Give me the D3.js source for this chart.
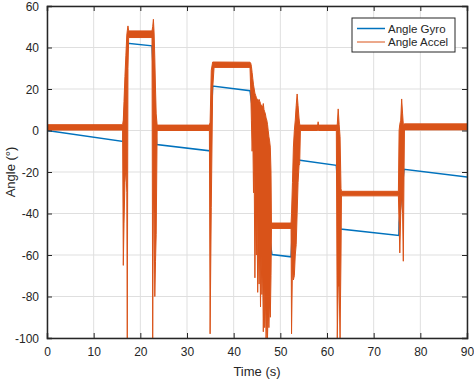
<!DOCTYPE html>
<html>
<head>
<meta charset="utf-8">
<script src="https://cdn.jsdelivr.net/npm/d3@7"></script>
<style>
  html, body { margin: 0; padding: 0; background: #fff; }
  text { font-family: "Liberation Sans", Arial, Helvetica, sans-serif; }
</style>
</head>
<body>
<svg id="chart" width="474" height="382"></svg>
<script>
// ---------- data ----------
const xTicks = [0, 10, 20, 30, 40, 50, 60, 70, 80, 90];
const yTicks = [-100, -80, -60, -40, -20, 0, 20, 40, 60];
const seriesNames = ["Angle Gyro", "Angle Accel"];

// Gyro angle (deg) vs time (s)
const gyroTime  = [0, 16.3, 17.3, 22.5, 23.5, 34.9, 35.5, 43.5, 48.2, 52.3, 53.3, 54.2, 62.0, 62.9, 75.4, 75.45, 76.5, 90];
const gyroAngle = [0, -5.3, 42.0, 40.8, -6.8, -9.8, 21.4, 19.2, -59.8, -60.9, -14.0, -14.3, -16.8, -47.5, -50.6, -44.5, -18.7, -22.4];

// Accel angle: noisy signal read as an envelope (min / max) over time
const accelTime = [
  0, 16.2, 16.35, 16.5, 16.7, 16.9, 17.1, 17.2, 17.35, 17.5,
  22.5, 22.65, 22.8, 22.95, 23.1, 23.25, 23.4, 23.6,
  34.8, 34.95, 35.2, 35.5, 35.8,
  43.5, 43.65, 43.8, 43.95, 44.1, 44.25, 44.4, 44.55, 44.7, 44.85, 45.0, 45.15, 45.3, 45.45, 45.6, 45.75, 45.9, 46.05, 46.2, 46.35, 46.5, 46.65, 46.8, 46.95, 47.1, 47.25, 47.4, 47.55, 47.7, 47.85, 48.0, 48.1,
  52.3, 52.4, 52.6, 52.8, 53.0, 53.2, 53.4, 53.6, 53.8, 54.0, 54.15, 54.3,
  58.0, 58.1, 58.2,
  62.0, 62.2, 62.4, 62.6, 62.8, 63.0, 63.1,
  75.3, 75.45, 75.6, 75.8, 76.0, 76.2, 76.35, 76.5, 76.6,
  90
];
const accelLow = [
  0.2, 0.2, -65, -45, -25, -18, -30, -100, 30, 44.8,
  44.8, -100, -30, -40, -80, -63, -50, 0,
  0, -98, -37, 20, 30.4,
  30.4, 20, 5, -10, -2, -30, -20, -71, -35, -60, -40, -78, -55, -74, -50, -85, -60, -79, -65, -97, -75, -95, -80, -100, -88, -100, -85, -95, -82, -90, -70, -47.2,
  -47.2, -98, -65, -72, -70, -60, -55, -40, -25, -17, -16, 0,
  0, 0, 0,
  0, -100, -75, -75, -100, -60, -31.5,
  -31.5, -45, -59, -40, -30, -40, -63, -21, 0.3,
  0.3
];
const accelHigh = [
  2.8, 2.8, 5, 14, 26, 36, 46, 48, 50.4, 48,
  48, 50, 53.6, 47, 35, 20, 8, 2.6,
  2.6, 4, 29, 33, 33,
  32.9, 32.5, 31, 28, 25, 22, 20, 18, 17, 16, 15, 15, 14, 15, 14, 13, 12, 12, 11, 13, 10, 9, 8, 6, 5, 3, 0, -3, -5, -8, -20, -44.6,
  -44.6, -40, -25, -8, 0, 5, 12, 17.6, 12, 6, 3, 2.6,
  2.6, 4.2, 2.6,
  2.6, 3, 10.4, 3, -3, -28, -29.3,
  -29.3, 0, 3, 5, 15.2, 8, 3, 3, 3.2,
  3.2
];

// ---------- layout ----------
const W = 474, H = 382;
const margin = { left: 47, right: 7, top: 6, bottom: 44 };
const iw = W - margin.left - margin.right;
const ih = H - margin.top - margin.bottom;

const blue = "#0072BD", orange = "#D95319", axisCol = "#262626";

const svg = d3.select("#chart");
const g = svg.append("g").attr("transform", `translate(${margin.left},${margin.top})`);

const x = d3.scaleLinear().domain([0, 90]).range([0, iw]);
const y = d3.scaleLinear().domain([-100, 60]).range([ih, 0]);

// grid
g.append("g").selectAll("line").data(xTicks).join("line")
  .attr("x1", d => x(d)).attr("x2", d => x(d)).attr("y1", 0).attr("y2", ih)
  .attr("stroke", "#dfdfdf").attr("stroke-width", 1);
g.append("g").selectAll("line").data(yTicks).join("line")
  .attr("x1", 0).attr("x2", iw).attr("y1", d => y(d)).attr("y2", d => y(d))
  .attr("stroke", "#dfdfdf").attr("stroke-width", 1);

svg.append("defs").append("clipPath").attr("id", "plotclip")
  .append("rect").attr("x", 0).attr("y", 0).attr("width", iw).attr("height", ih);

const plot = g.append("g").attr("clip-path", "url(#plotclip)");

// gyro line
const gyro = gyroTime.map((t, i) => ({ t, v: gyroAngle[i] }));
plot.append("path").datum(gyro)
  .attr("fill", "none").attr("stroke", blue).attr("stroke-width", 1.5)
  .attr("d", d3.line().x(d => x(d.t)).y(d => y(d.v)));

// accel envelope
const accel = accelTime.map((t, i) => ({ t, lo: accelLow[i], hi: accelHigh[i] }));
plot.append("path").datum(accel)
  .attr("fill", orange).attr("stroke", orange).attr("stroke-width", 1).attr("stroke-linejoin", "round")
  .attr("d", d3.area().x(d => x(d.t)).y0(d => y(d.lo)).y1(d => y(d.hi)));

// axes (ticks inward, box on)
const tickLen = 5;
const ax = g.append("g").attr("transform", `translate(0,${ih})`)
  .call(d3.axisBottom(x).tickValues(xTicks).tickSize(-tickLen).tickPadding(9).tickFormat(d3.format("d")));
const axTop = g.append("g")
  .call(d3.axisTop(x).tickValues(xTicks).tickSize(-tickLen).tickFormat(""));
const ay = g.append("g")
  .call(d3.axisLeft(y).tickValues(yTicks).tickSize(-tickLen).tickPadding(8).tickFormat(d => String(d)));
const ayR = g.append("g").attr("transform", `translate(${iw},0)`)
  .call(d3.axisRight(y).tickValues(yTicks).tickSize(-tickLen).tickFormat(""));

[ax, axTop, ay, ayR].forEach(a => {
  a.select(".domain").attr("stroke", axisCol).attr("stroke-width", 1.5);
  a.selectAll(".tick line").attr("stroke", axisCol).attr("stroke-width", 1);
  a.selectAll("text").attr("fill", axisCol).style("font-size", "12px")
    .style("font-family", '"Liberation Sans", Arial, sans-serif');
});
ay.selectAll("text").attr("dy", "0.36em");

// axis titles
svg.append("text").attr("x", margin.left + iw / 2).attr("y", 376)
  .attr("text-anchor", "middle").attr("fill", axisCol).style("font-size", "13px")
  .text("Time (s)");
svg.append("text").attr("transform", `translate(15,${margin.top + ih / 2}) rotate(-90)`)
  .attr("text-anchor", "middle").attr("fill", axisCol).style("font-size", "13px")
  .text("Angle (°)");

// legend
const lg = svg.append("g").attr("transform", "translate(352,18)");
lg.append("rect").attr("width", 103).attr("height", 34)
  .attr("fill", "#fff").attr("stroke", axisCol).attr("stroke-width", 1);
const legColors = [blue, orange];
seriesNames.forEach((name, i) => {
  const yy = 10.5 + i * 13.5;
  lg.append("line").attr("x1", 5).attr("x2", 33).attr("y1", yy).attr("y2", yy)
    .attr("stroke", legColors[i]).attr("stroke-width", i === 0 ? 1.5 : 1);
  lg.append("text").attr("x", 36).attr("y", yy + 4).attr("fill", axisCol)
    .style("font-size", "11.5px").text(name);
});
</script>
</body>
</html>
